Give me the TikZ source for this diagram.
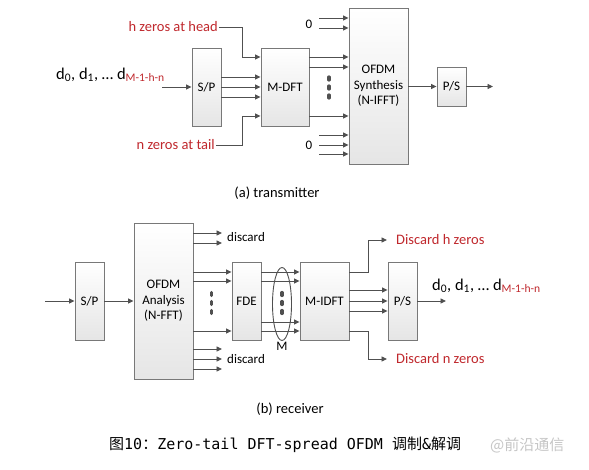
\documentclass[tikz,border=0pt]{standalone}
\usepackage{fontspec}
\setmainfont{Carlito}
\newfontfamily\cjkfont{Noto Sans CJK SC}
\newfontfamily\capmono{DejaVu Sans Mono}
\usetikzlibrary{arrows.meta,shapes.geometric,positioning}
\definecolor{linegray}{RGB}{80,80,80}
\definecolor{boxgray}{RGB}{120,120,120}
\definecolor{labred}{RGB}{192,40,45}
\tikzset{
  blk/.style={draw=boxgray, line width=0.9pt, top color=white, bottom color=gray!20,
    align=center, inner sep=0pt, font=\fontsize{13}{15.5}\selectfont},
  sig/.style={->, draw=linegray, line width=0.9pt},
  lbl/.style={font=\fontsize{13}{15}\selectfont, inner sep=1pt},
  sublbl/.style={font=\fontsize{14.5}{17}\selectfont, inner sep=1pt},
  redlbl/.style={text=labred, font=\fontsize{14.5}{17}\selectfont, inner sep=1pt},
  seqlbl/.style={font=\fontsize{16.5}{18}\selectfont, inner sep=1pt},
  vdot/.style={draw=linegray, line width=3.2pt, line cap=round}
}
\newcommand{\dseq}{d\textsubscript{0}, d\textsubscript{1}, … d\textsubscript{\color{labred}M-1-h-n}}
\begin{document}
\begin{tikzpicture}[x=1pt, y=-1pt, >={Triangle[length=5.5pt,width=5pt]}]
  \fill[white] (0,0) rectangle (589,470);
  \useasboundingbox (0,0) rectangle (589,470);

  % transmitter
  \node[blk, minimum width=29, minimum height=78] (sp1) at (206.5,87) {S/P};
  \node[blk, minimum width=48, minimum height=78] (mdft) at (285,87) {M-DFT};
  \node[blk, minimum width=59, minimum height=156] (ofdms) at (378.5,86) {OFDM\\Synthesis\\(N-IFFT)};
  \node[blk, minimum width=29, minimum height=39] (ps1) at (451.5,86.5) {P/S};
  \node[seqlbl, anchor=west] (din) at (55,75) {\dseq};
  \node[redlbl, anchor=east] (hz) at (219,27) {h zeros at head};
  \node[redlbl, anchor=east] (nz) at (216,145) {n zeros at tail};
  \node[lbl] (z1) at (309,24) {0};
  \node[lbl] (z2) at (309,145) {0};
  \coordinate (in1) at (162,87);
  \coordinate (out1) at (493,86.5);

  \draw[sig] (in1) -- (sp1.west |- in1);
  \foreach \y in {77,87,97}
    \draw[sig] (sp1.east |- 0,\y) -- (mdft.west |- 0,\y);
  \draw[sig] (hz.east) -- ++(23,0) |- (mdft.west |- 0,57);
  \draw[sig] (nz.east) -- ++(26,0) |- (mdft.west |- 0,116);
  \foreach \y in {57,67,116}
    \draw[sig] (mdft.east |- 0,\y) -- (ofdms.west |- 0,\y);
  \foreach \y in {18,28}
    \draw[sig] ([xshift=6pt]z1.east |- 0,\y) -- (ofdms.west |- 0,\y);
  \foreach \y in {135,145,154}
    \draw[sig] ([xshift=6pt]z2.east |- 0,\y) -- (ofdms.west |- 0,\y);
  \foreach \y in {78.5,87.5,96.5}
    \draw[vdot] (329,\y-1.5) -- (329,\y+1.5);
  \draw[sig] (ofdms.east |- ps1.west) -- (ps1.west);
  \draw[sig] (ps1.east) -- (out1);
  \node[sublbl] (capa) at (277,193) {(a) transmitter};

  % receiver
  \node[blk, minimum width=29, minimum height=78] (sp2) at (89.5,301) {S/P};
  \node[blk, minimum width=59, minimum height=156] (ofdma) at (163.5,301) {OFDM\\Analysis\\(N-FFT)};
  \node[blk, minimum width=29, minimum height=78] (fde) at (246.5,301) {FDE};
  \node[blk, minimum width=49, minimum height=78] (midft) at (324.5,301) {M-IDFT};
  \node[blk, minimum width=29, minimum height=78] (ps2) at (402.5,301) {P/S};
  \node[draw=linegray, line width=0.9pt, ellipse, inner sep=0pt,
        minimum width=19, minimum height=73] (mgrp) at (282,304) {};
  \node[lbl, below=0pt of mgrp] (mlab) {M};
  \node[lbl, anchor=west] (dc1) at (226,237) {discard};
  \node[lbl, anchor=west] (dc2) at (226,359) {discard};
  \node[redlbl, anchor=west] (dh) at (395,240) {Discard h zeros};
  \node[redlbl, anchor=west] (dn) at (395,359) {Discard n zeros};
  \node[seqlbl, anchor=west] (dout) at (431,286) {\dseq};
  \coordinate (in2) at (45,301);
  \coordinate (out2) at (446,301);

  \draw[sig] (in2) -- (sp2.west);
  \draw[sig] (sp2.east) -- (ofdma.west |- sp2.east);
  \foreach \y in {233,243}
    \draw[sig] (ofdma.east |- 0,\y) -- ([xshift=-4pt]dc1.west |- 0,\y);
  \foreach \y in {349,359,369}
    \draw[sig] (ofdma.east |- 0,\y) -- ([xshift=-4pt]dc2.west |- 0,\y);
  \foreach \y in {272,281,331}
    \draw[sig] (ofdma.east |- 0,\y) -- (fde.west |- 0,\y);
  \foreach \y in {272,281,322,331}
    \draw[sig] (fde.east |- 0,\y) -- (midft.west |- 0,\y);
  \foreach \y in {290,301,311}
    \draw[sig] (midft.east |- 0,\y) -- (ps2.west |- 0,\y);
  \foreach \y in {294,303,312}{
    \draw[vdot] (211.7,\y-1.5) -- (211.7,\y+1.5);
    \draw[vdot] (282,\y-1.5) -- (282,\y+1.5);
  }
  \draw[sig] (midft.east |- 0,272) -- ++(19,0) |- ([xshift=-8pt]dh.west);
  \draw[sig] (midft.east |- 0,331) -- ++(19,0) |- ([xshift=-8pt]dn.west);
  \draw[sig] (ps2.east) -- (out2);
  \node[sublbl] (capb) at (290,409) {(b) receiver};

  % caption
  \node[anchor=west, inner sep=0pt, font=\fontsize{15}{17}\selectfont] (cap) at (109,445)
    {{\cjkfont 图}{\capmono 10}{\cjkfont ：}{\capmono Zero-tail DFT-spread OFDM }{\cjkfont 调制}{\capmono \&}{\cjkfont 解调}};
  \node[anchor=west, inner sep=0pt, text=gray!45, font=\cjkfont\fontsize{15}{17}\selectfont] (wm) at (490,445) {@前沿通信};
\end{tikzpicture}
\end{document}
